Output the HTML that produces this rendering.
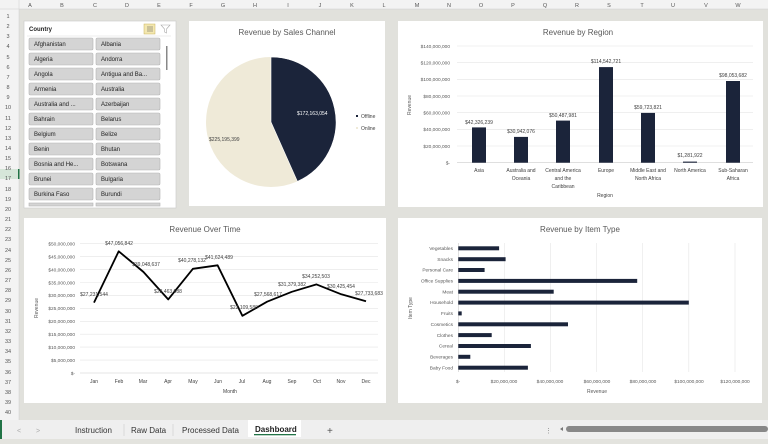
<!DOCTYPE html><html><head><style>
body{margin:0;width:768px;height:439px;overflow:hidden;background:#e3e3de;font-family:"Liberation Sans",sans-serif}
</style></head><body>
<svg width="768" height="439" viewBox="0 0 768 439" xmlns="http://www.w3.org/2000/svg" font-family="Liberation Sans, sans-serif">
<rect width="768" height="439" fill="#e1e1dc"/>
<rect width="768" height="9" fill="#f3f3f3"/>
<rect width="19" height="420" fill="#f3f3f3"/>
<line x1="0" y1="9" x2="768" y2="9" stroke="#d0d0d0" stroke-width="0.5"/>
<line x1="19" y1="0" x2="19" y2="420" stroke="#d0d0d0" stroke-width="0.5"/>
<rect x="0" y="169" width="19" height="10" fill="#d6e6d9"/><rect x="18" y="169" width="1.5" height="10" fill="#217346"/>
<g font-size="5.5" fill="#555" text-anchor="middle">
<text x="30" y="7">A</text><text x="62" y="7">B</text><text x="95" y="7">C</text><text x="127" y="7">D</text><text x="159" y="7">E</text><text x="191" y="7">F</text><text x="223" y="7">G</text><text x="255" y="7">H</text><text x="288" y="7">I</text><text x="320" y="7">J</text><text x="352" y="7">K</text><text x="384" y="7">L</text><text x="417" y="7">M</text><text x="449" y="7">N</text><text x="481" y="7">O</text><text x="513" y="7">P</text><text x="545" y="7">Q</text><text x="577" y="7">R</text><text x="609" y="7">S</text><text x="642" y="7">T</text><text x="673" y="7">U</text><text x="706" y="7">V</text><text x="738" y="7">W</text>
<text x="8" y="18">1</text><text x="8" y="28">2</text><text x="8" y="38">3</text><text x="8" y="48">4</text><text x="8" y="59">5</text><text x="8" y="69">6</text><text x="8" y="79">7</text><text x="8" y="89">8</text><text x="8" y="99">9</text><text x="8" y="109">10</text><text x="8" y="120">11</text><text x="8" y="130">12</text><text x="8" y="140">13</text><text x="8" y="150">14</text><text x="8" y="160">15</text><text x="8" y="170">16</text><text x="8" y="180">17</text><text x="8" y="191">18</text><text x="8" y="201">19</text><text x="8" y="211">20</text><text x="8" y="221">21</text><text x="8" y="231">22</text><text x="8" y="241">23</text><text x="8" y="252">24</text><text x="8" y="262">25</text><text x="8" y="272">26</text><text x="8" y="282">27</text><text x="8" y="292">28</text><text x="8" y="302">29</text><text x="8" y="313">30</text><text x="8" y="323">31</text><text x="8" y="333">32</text><text x="8" y="343">33</text><text x="8" y="353">34</text><text x="8" y="363">35</text><text x="8" y="374">36</text><text x="8" y="384">37</text><text x="8" y="394">38</text><text x="8" y="404">39</text><text x="8" y="414">40</text>
</g>

<!-- Slicer -->
<rect x="24" y="21" width="152" height="187" fill="#fff" stroke="#c8c8c8" stroke-width="0.6"/>
<text x="29" y="31" font-size="6" font-weight="bold" fill="#222">Country</text>
<rect x="144" y="24" width="11" height="10" fill="#f3e7b0" stroke="#c9b15a" stroke-width="0.5"/>
<path d="M147 27h6M147 29h6M147 31h6" stroke="#555" stroke-width="0.6"/>
<path d="M161 25h9l-3.5 4v4l-2-1v-3z" fill="none" stroke="#aaa" stroke-width="0.6"/>
<line x1="27" y1="36" x2="171" y2="36" stroke="#ddd" stroke-width="0.5"/>
<rect x="166" y="46" width="1.5" height="24" fill="#888"/>
<g font-size="6" fill="#222">
<g fill="#d4d4d4" stroke="#b5b5b5" stroke-width="0.6">
<rect x="29" y="38" width="64" height="12" rx="1.5"/><rect x="96" y="38" width="64" height="12" rx="1.5"/>
<rect x="29" y="53" width="64" height="12" rx="1.5"/><rect x="96" y="53" width="64" height="12" rx="1.5"/>
<rect x="29" y="68" width="64" height="12" rx="1.5"/><rect x="96" y="68" width="64" height="12" rx="1.5"/>
<rect x="29" y="83" width="64" height="12" rx="1.5"/><rect x="96" y="83" width="64" height="12" rx="1.5"/>
<rect x="29" y="98" width="64" height="12" rx="1.5"/><rect x="96" y="98" width="64" height="12" rx="1.5"/>
<rect x="29" y="113" width="64" height="12" rx="1.5"/><rect x="96" y="113" width="64" height="12" rx="1.5"/>
<rect x="29" y="128" width="64" height="12" rx="1.5"/><rect x="96" y="128" width="64" height="12" rx="1.5"/>
<rect x="29" y="143" width="64" height="12" rx="1.5"/><rect x="96" y="143" width="64" height="12" rx="1.5"/>
<rect x="29" y="158" width="64" height="12" rx="1.5"/><rect x="96" y="158" width="64" height="12" rx="1.5"/>
<rect x="29" y="173" width="64" height="12" rx="1.5"/><rect x="96" y="173" width="64" height="12" rx="1.5"/>
<rect x="29" y="188" width="64" height="12" rx="1.5"/><rect x="96" y="188" width="64" height="12" rx="1.5"/>
<rect x="29" y="203" width="64" height="3" /><rect x="96" y="203" width="64" height="3"/>
</g>
<text x="34" y="46">Afghanistan</text><text x="101" y="46">Albania</text>
<text x="34" y="61">Algeria</text><text x="101" y="61">Andorra</text>
<text x="34" y="76">Angola</text><text x="101" y="76">Antigua and Ba...</text>
<text x="34" y="91">Armenia</text><text x="101" y="91">Australia</text>
<text x="34" y="106">Australia and ...</text><text x="101" y="106">Azerbaijan</text>
<text x="34" y="121">Bahrain</text><text x="101" y="121">Belarus</text>
<text x="34" y="136">Belgium</text><text x="101" y="136">Belize</text>
<text x="34" y="151">Benin</text><text x="101" y="151">Bhutan</text>
<text x="34" y="166">Bosnia and He...</text><text x="101" y="166">Botswana</text>
<text x="34" y="181">Brunei</text><text x="101" y="181">Bulgaria</text>
<text x="34" y="196">Burkina Faso</text><text x="101" y="196">Burundi</text>
</g>

<!-- Pie -->
<rect x="189" y="21" width="196" height="185" fill="#fff"/>
<text x="287" y="35" font-size="8" fill="#595959" text-anchor="middle">Revenue by Sales Channel</text>
<circle cx="271" cy="122" r="65" fill="#efead8"/>
<path d="M271 122 L271 57 A65 65 0 0 1 297.4 181.4 Z" fill="#1b243a" stroke="#fff" stroke-width="0.6"/>
<text x="297" y="115" font-size="5" fill="#fff">$172,163,054</text>
<text x="209" y="141" font-size="5" fill="#404040">$225,195,399</text>
<rect x="356" y="115" width="2" height="2" fill="#1b243a"/><text x="361" y="118" font-size="5" fill="#404040">Offline</text>
<rect x="356" y="127" width="2" height="2" fill="#efead8"/><text x="361" y="130" font-size="5" fill="#404040">Online</text>

<!-- Region -->
<rect x="398" y="21" width="365" height="186" fill="#fff"/>
<text x="578" y="35" font-size="8" fill="#595959" text-anchor="middle">Revenue by Region</text>
<g stroke="#e5e5e5" stroke-width="0.6">
<line x1="457" y1="46" x2="753" y2="46"/><line x1="457" y1="62.7" x2="753" y2="62.7"/><line x1="457" y1="79.4" x2="753" y2="79.4"/><line x1="457" y1="96" x2="753" y2="96"/><line x1="457" y1="112.7" x2="753" y2="112.7"/><line x1="457" y1="129.4" x2="753" y2="129.4"/><line x1="457" y1="146" x2="753" y2="146"/><line x1="457" y1="162.7" x2="753" y2="162.7" stroke="#ccc"/>
</g>
<g font-size="4.8" fill="#595959" text-anchor="end">
<text x="450" y="48">$140,000,000</text><text x="450" y="64.5">$120,000,000</text><text x="450" y="81">$100,000,000</text><text x="450" y="98">$80,000,000</text><text x="450" y="114.5">$60,000,000</text><text x="450" y="131">$40,000,000</text><text x="450" y="148">$20,000,000</text><text x="450" y="164.5">$-</text>
</g>
<text transform="translate(411,105) rotate(-90)" font-size="5" fill="#595959" text-anchor="middle">Revenue</text>
<g fill="#1b243a">
<rect x="472" y="127.4" width="14" height="35.3"/><rect x="514" y="136.9" width="14" height="25.8"/><rect x="556" y="120.6" width="14" height="42.1"/><rect x="599" y="67.1" width="14" height="95.6"/><rect x="641" y="112.9" width="14" height="49.8"/><rect x="683" y="161.6" width="14" height="1.1"/><rect x="726" y="81" width="14" height="81.7"/>
</g>
<g font-size="5" fill="#404040" text-anchor="middle">
<text x="479" y="124">$42,326,239</text><text x="521" y="133">$30,942,076</text><text x="563" y="117">$50,487,981</text><text x="606" y="63">$114,542,721</text><text x="648" y="109">$59,723,821</text><text x="690" y="157">$1,281,922</text><text x="733" y="77">$98,053,682</text>
<text x="479" y="172">Asia</text>
<text x="521" y="172">Australia and</text><text x="521" y="180">Oceania</text>
<text x="563" y="172">Central America</text><text x="563" y="180">and the</text><text x="563" y="188">Caribbean</text>
<text x="606" y="172">Europe</text>
<text x="648" y="172">Middle East and</text><text x="648" y="180">North Africa</text>
<text x="690" y="172">North America</text>
<text x="733" y="172">Sub-Saharan</text><text x="733" y="180">Africa</text>
<text x="605" y="197">Region</text>
</g>

<!-- Line chart -->
<rect x="24" y="218" width="362" height="185" fill="#fff"/>
<text x="205" y="232" font-size="8" fill="#595959" text-anchor="middle">Revenue Over Time</text>
<g stroke="#e5e5e5" stroke-width="0.6">
<line x1="80" y1="243.7" x2="378" y2="243.7"/><line x1="80" y1="256.6" x2="378" y2="256.6"/><line x1="80" y1="269.6" x2="378" y2="269.6"/><line x1="80" y1="282.5" x2="378" y2="282.5"/><line x1="80" y1="295.4" x2="378" y2="295.4"/><line x1="80" y1="308.3" x2="378" y2="308.3"/><line x1="80" y1="321.3" x2="378" y2="321.3"/><line x1="80" y1="334.2" x2="378" y2="334.2"/><line x1="80" y1="347.1" x2="378" y2="347.1"/><line x1="80" y1="360.1" x2="378" y2="360.1"/><line x1="80" y1="373" x2="378" y2="373" stroke="#ccc"/>
</g>
<g font-size="4.8" fill="#595959" text-anchor="end">
<text x="75" y="245.5">$50,000,000</text><text x="75" y="258.5">$45,000,000</text><text x="75" y="271.5">$40,000,000</text><text x="75" y="284.5">$35,000,000</text><text x="75" y="297">$30,000,000</text><text x="75" y="310">$25,000,000</text><text x="75" y="323">$20,000,000</text><text x="75" y="336">$15,000,000</text><text x="75" y="349">$10,000,000</text><text x="75" y="362">$5,000,000</text><text x="75" y="375">$-</text>
</g>
<text transform="translate(38,308) rotate(-90)" font-size="5" fill="#595959" text-anchor="middle">Revenue</text>
<polyline fill="none" stroke="#000" stroke-width="1.8" stroke-linejoin="round" points="94,302.6 118.7,251.3 143.5,272 168.2,299.4 192.9,268.8 217.6,265.3 242.4,315.8 267.1,301.7 291.8,291.8 316.5,284.4 341.3,294.3 366,301.3"/>
<g font-size="5" fill="#404040" text-anchor="middle">
<text x="94" y="296">$27,231,544</text><text x="119" y="245">$47,056,842</text><text x="146" y="266">$39,048,637</text><text x="168" y="293">$28,463,688</text><text x="192" y="262">$40,278,132</text><text x="219" y="259">$41,624,489</text><text x="244" y="309">$22,109,580</text><text x="268" y="296">$27,568,617</text><text x="292" y="286">$31,379,382</text><text x="316" y="278">$34,252,503</text><text x="341" y="288">$30,425,454</text><text x="369" y="295">$27,733,683</text>
<text x="94" y="383">Jan</text><text x="119" y="383">Feb</text><text x="143" y="383">Mar</text><text x="168" y="383">Apr</text><text x="193" y="383">May</text><text x="218" y="383">Jun</text><text x="242" y="383">Jul</text><text x="267" y="383">Aug</text><text x="292" y="383">Sep</text><text x="317" y="383">Oct</text><text x="341" y="383">Nov</text><text x="366" y="383">Dec</text>
<text x="230" y="393">Month</text>
</g>

<!-- Item type -->
<rect x="398" y="218" width="364" height="185" fill="#fff"/>
<text x="580" y="232" font-size="8" fill="#595959" text-anchor="middle">Revenue by Item Type</text>
<g stroke="#e5e5e5" stroke-width="0.6">
<line x1="504.4" y1="243" x2="504.4" y2="372"/><line x1="550.5" y1="243" x2="550.5" y2="372"/><line x1="596.6" y1="243" x2="596.6" y2="372"/><line x1="642.7" y1="243" x2="642.7" y2="372"/><line x1="688.8" y1="243" x2="688.8" y2="372"/><line x1="735" y1="243" x2="735" y2="372"/><line x1="458.3" y1="243" x2="458.3" y2="372" stroke="#ccc"/>
</g>
<g fill="#1b243a">
<rect x="458.3" y="246.3" width="40.8" height="4"/><rect x="458.3" y="257.2" width="47.3" height="4"/><rect x="458.3" y="268" width="26.3" height="4"/><rect x="458.3" y="278.9" width="178.9" height="4"/><rect x="458.3" y="289.7" width="95.4" height="4"/><rect x="458.3" y="300.6" width="230.5" height="4"/><rect x="458.3" y="311.4" width="3.4" height="4"/><rect x="458.3" y="322.3" width="109.7" height="4"/><rect x="458.3" y="333.1" width="33.4" height="4"/><rect x="458.3" y="344" width="72.6" height="4"/><rect x="458.3" y="354.8" width="12" height="4"/><rect x="458.3" y="365.7" width="69.6" height="4"/>
</g>
<g font-size="4.8" fill="#595959" text-anchor="end">
<text x="453" y="250">Vegetables</text><text x="453" y="261">Snacks</text><text x="453" y="271.5">Personal Care</text><text x="453" y="282.5">Office Supplies</text><text x="453" y="293.5">Meat</text><text x="453" y="304">Household</text><text x="453" y="315">Fruits</text><text x="453" y="326">Cosmetics</text><text x="453" y="337">Clothes</text><text x="453" y="347.5">Cereal</text><text x="453" y="358.5">Beverages</text><text x="453" y="369.5">Baby Food</text>
</g>
<g font-size="4.8" fill="#595959" text-anchor="middle">
<text x="458" y="383">$-</text><text x="504" y="383">$20,000,000</text><text x="550" y="383">$40,000,000</text><text x="597" y="383">$60,000,000</text><text x="643" y="383">$80,000,000</text><text x="689" y="383">$100,000,000</text><text x="735" y="383">$120,000,000</text>
<text x="597" y="393" font-size="5">Revenue</text>
</g>
<text transform="translate(412,308) rotate(-90)" font-size="5" fill="#595959" text-anchor="middle">Item Type</text>

<!-- tab bar -->
<rect x="0" y="420" width="768" height="19" fill="#efefef"/>
<rect x="0" y="420" width="2" height="19" fill="#217346"/>
<g font-size="8" fill="#333">
<text x="17" y="433" fill="#aaa" font-size="7">&lt;</text><text x="36" y="433" fill="#aaa" font-size="7">&gt;</text>
<text x="75" y="433">Instruction</text>
<text x="131" y="433">Raw Data</text>
<text x="182" y="433">Processed Data</text>
<line x1="124" y1="424" x2="124" y2="436" stroke="#ccc" stroke-width="0.6"/>
<line x1="173" y1="424" x2="173" y2="436" stroke="#ccc" stroke-width="0.6"/>
<rect x="248" y="420" width="53" height="17" fill="#fff"/>
<text x="255" y="432" font-weight="bold" fill="#217346" style="fill:#222">Dashboard</text>
<rect x="254" y="434" width="42" height="1.3" fill="#217346"/>
<text x="327" y="434" font-size="10" fill="#555">+</text>
<text x="545" y="433" fill="#888" font-size="7">⋮</text>
</g>
<path d="M560 429l3-2v4z" fill="#777"/>
<rect x="566" y="426" width="202" height="6" rx="3" fill="#888"/>
</svg>
</body></html>
